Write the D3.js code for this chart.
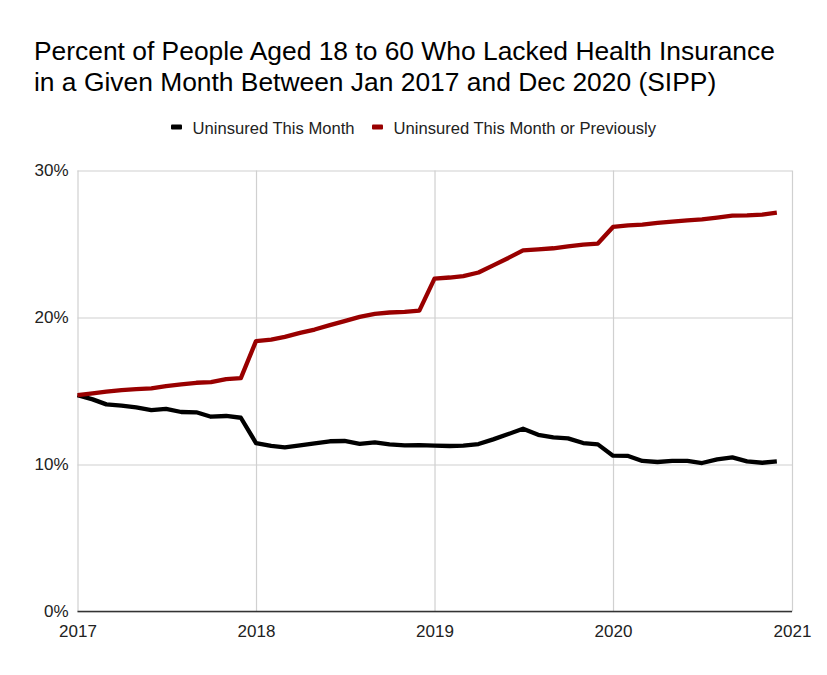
<!DOCTYPE html>
<html>
<head>
<meta charset="utf-8">
<script src="https://cdn.jsdelivr.net/npm/d3@7"></script>
<style>
  html, body { margin: 0; padding: 0; background: #fff; }
  text { font-family: "Liberation Sans", Arial, sans-serif; }
</style>
</head>
<body>
<svg id="chart" width="827" height="675"></svg>
<script>
const titleLines = [
  "Percent of People Aged 18 to 60 Who Lacked Health Insurance",
  "in a Given Month Between Jan 2017 and Dec 2020 (SIPP)"
];
const seriesNames = ["Uninsured This Month", "Uninsured This Month or Previously"];
const seriesColors = ["#000000", "#990000"];
const startYear = 2017;
const xTickYears = [2017, 2018, 2019, 2020, 2021];
const yTicks = [0, 10, 20, 30];

// Monthly values, Jan 2017 .. Dec 2020 (percent)
const uninsuredThisMonth = [
  14.72, 14.43, 14.09, 14.00, 13.88, 13.70, 13.79, 13.57, 13.55, 13.25, 13.30, 13.18,
  11.46, 11.26, 11.17, 11.30, 11.44, 11.58, 11.60, 11.41, 11.51, 11.37, 11.30, 11.32,
  11.29, 11.26, 11.28, 11.39, 11.71, 12.07, 12.43, 12.02, 11.85, 11.78, 11.46, 11.37,
  10.60, 10.58, 10.24, 10.17, 10.24, 10.24, 10.10, 10.35, 10.48, 10.21, 10.12, 10.21
];
const uninsuredEver = [
  14.72, 14.84, 14.95, 15.06, 15.13, 15.18, 15.33, 15.45, 15.56, 15.60, 15.81, 15.88,
  18.39, 18.50, 18.68, 18.95, 19.18, 19.48, 19.75, 20.04, 20.25, 20.34, 20.38, 20.47,
  22.65, 22.72, 22.81, 23.06, 23.55, 24.05, 24.57, 24.64, 24.71, 24.84, 24.96, 25.03,
  26.16, 26.27, 26.32, 26.43, 26.52, 26.61, 26.67, 26.79, 26.93, 26.95, 27.00, 27.13
];
const seriesValues = [uninsuredThisMonth, uninsuredEver];

const svg = d3.select("#chart");
const plot = { left: 77.5, right: 792, top: 170.5, bottom: 611.5 };

const x = d3.scaleTime()
  .domain([new Date(xTickYears[0], 0, 1), new Date(xTickYears[xTickYears.length - 1], 0, 1)])
  .range([plot.left, plot.right]);
const y = d3.scaleLinear().domain([0, 30]).range([plot.bottom, plot.top]);

svg.append("rect").attr("width", 827).attr("height", 675).attr("fill", "#fff");

// Title
svg.append("g").selectAll("text").data(titleLines).join("text")
  .attr("x", 34).attr("y", (d, i) => 59.5 + i * 31)
  .attr("font-size", 26.4).attr("fill", "#000")
  .text(d => d);

// Legend
const legend = svg.append("g");
const legendItems = [
  { name: seriesNames[0], color: seriesColors[0], x: 171 },
  { name: seriesNames[1], color: seriesColors[1], x: 372 }
];
legendItems.forEach(it => {
  legend.append("rect").attr("x", it.x).attr("y", 124.5).attr("width", 11).attr("height", 5)
    .attr("rx", 1).attr("fill", it.color);
  legend.append("text").attr("x", it.x + 21.5).attr("y", 133.5)
    .attr("font-size", 16.6).attr("fill", "#222").text(it.name);
});

// Gridlines horizontal
const yAxis = d3.axisLeft(y).tickValues(yTicks).tickFormat(d => d + "%")
  .tickSize(-(plot.right - plot.left)).tickPadding(9);
const gy = svg.append("g").attr("transform", `translate(${plot.left},0)`).call(yAxis);
gy.select(".domain").remove();
gy.selectAll(".tick line").attr("stroke", "#d0d0d0").attr("stroke-width", 1.2);
gy.selectAll(".tick text").attr("font-size", 17).attr("fill", "#222")
  .attr("font-family", "Liberation Sans, Arial, sans-serif");

// Vertical gridlines + x labels
const xAxis = d3.axisBottom(x)
  .tickValues(xTickYears.map(yr => new Date(yr, 0, 1)))
  .tickFormat(d3.timeFormat("%Y"))
  .tickSize(-(plot.bottom - plot.top)).tickPadding(13);
const gx = svg.append("g").attr("transform", `translate(0,${plot.bottom})`).call(xAxis);
gx.select(".domain").remove();
gx.selectAll(".tick line").attr("stroke", "#d0d0d0").attr("stroke-width", 1.2);
gx.selectAll(".tick text").attr("font-size", 17).attr("fill", "#222")
  .attr("font-family", "Liberation Sans, Arial, sans-serif");

// Baseline
svg.append("line")
  .attr("x1", plot.left).attr("x2", plot.right)
  .attr("y1", y(0)).attr("y2", y(0))
  .attr("stroke", "#333").attr("stroke-width", 1.5);

// Lines
const line = d3.line()
  .x((d, i) => x(new Date(startYear, i, 1)))
  .y(d => y(d));

svg.append("g").selectAll("path").data(seriesValues).join("path")
  .attr("d", d => line(d))
  .attr("fill", "none")
  .attr("stroke", (d, i) => seriesColors[i])
  .attr("stroke-width", 4.3)
  .attr("stroke-linejoin", "round")
  .attr("stroke-linecap", "butt");
</script>
</body>
</html>
